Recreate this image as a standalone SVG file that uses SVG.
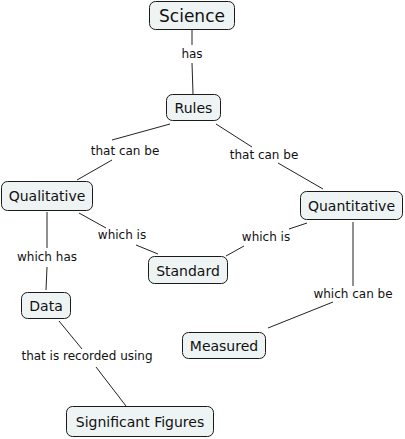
<svg xmlns="http://www.w3.org/2000/svg" width="405" height="439" viewBox="0 0 405 439">
<style>
.n rect{fill:#eef4f4;stroke:#1a1a1a;stroke-width:1}
.n text{font-family:"DejaVu Sans",Verdana,sans-serif;font-size:14px;fill:#111;text-anchor:middle}
.l{font-family:"DejaVu Sans",Verdana,sans-serif;font-size:12px;fill:#111;text-anchor:middle}
#edges line{stroke:#222;stroke-width:1}
</style>
<rect width="405" height="439" fill="#fff"/>
<g id="edges">
<line x1="192" y1="30" x2="192" y2="45"/>
<line x1="192" y1="63" x2="193" y2="94"/>
<line x1="170" y1="124" x2="112" y2="140"/>
<line x1="112" y1="160" x2="77" y2="180"/>
<line x1="216" y1="124" x2="252" y2="147"/>
<line x1="278" y1="163" x2="323" y2="189"/>
<line x1="79" y1="213" x2="106" y2="228"/>
<line x1="136" y1="245" x2="158" y2="254"/>
<line x1="307" y1="223" x2="289" y2="229"/>
<line x1="244" y1="246" x2="226" y2="256"/>
<line x1="47" y1="212" x2="47" y2="248"/>
<line x1="47" y1="267" x2="46" y2="290"/>
<line x1="353" y1="222" x2="353" y2="286"/>
<line x1="333" y1="302" x2="268" y2="328"/>
<line x1="59" y1="321" x2="82" y2="349"/>
<line x1="96" y1="367" x2="126" y2="406"/>
<text class="l" x="192" y="58">has</text>
<text class="l" x="125" y="155">that can be</text>
<text class="l" x="264" y="159">that can be</text>
<text class="l" x="122" y="239">which is</text>
<text class="l" x="266" y="241">which is</text>
<text class="l" x="47" y="261">which has</text>
<text class="l" x="353" y="298">which can be</text>
<text class="l" x="87" y="360">that is recorded using</text>
</g>
<g id="science" class="n"><rect x="149.5" y="1.5" width="85" height="28" rx="6"/><text x="192" y="22" style="font-size:17px">Science</text></g>
<g id="rules" class="n"><rect x="166.5" y="94.5" width="54" height="26" rx="6"/><text x="193.5" y="112.5">Rules</text></g>
<g id="qualitative" class="n"><rect x="1.5" y="181.5" width="91" height="29" rx="6"/><text x="47" y="200.5">Qualitative</text></g>
<g id="quantitative" class="n"><rect x="300.5" y="191.5" width="102" height="28" rx="6"/><text x="351.5" y="210.5">Quantitative</text></g>
<g id="standard" class="n"><rect x="148.5" y="256.5" width="79" height="27" rx="6"/><text x="188" y="275.5">Standard</text></g>
<g id="data" class="n"><rect x="21.5" y="292.5" width="49" height="26" rx="6"/><text x="46" y="310.5">Data</text></g>
<g id="measured" class="n"><rect x="182.5" y="332.5" width="83" height="26" rx="6"/><text x="224" y="350.5">Measured</text></g>
<g id="sigfig" class="n"><rect x="66.5" y="406.5" width="147" height="30" rx="6"/><text x="140" y="426.5">Significant Figures</text></g>
</svg>
